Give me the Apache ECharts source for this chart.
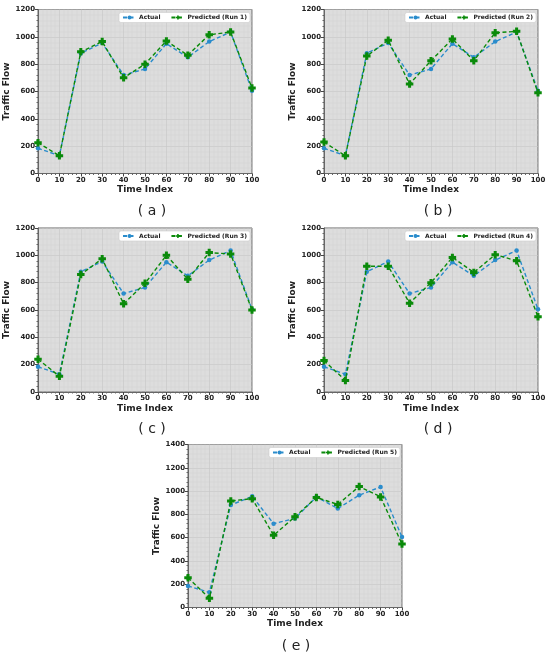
<!DOCTYPE html>
<html>
<head>
<meta charset="utf-8">
<script src="https://cdn.jsdelivr.net/npm/echarts@6/dist/echarts.min.js"></script>
<style>
html,body{margin:0;padding:0;background:#fff;}
#chart{width:550px;height:656px;}
</style>
</head>
<body>
<div id="chart"></div>
<script>
var timeIndex = [0, 10, 20, 30, 40, 50, 60, 70, 80, 90, 100];
var actual = [185, 130, 880, 955, 720, 765, 950, 850, 965, 1035, 605];
var predRun1 = [225, 130, 890, 965, 700, 800, 970, 865, 1015, 1035, 625];
var predRun2 = [230, 130, 860, 975, 655, 825, 985, 825, 1030, 1040, 590];
var predRun3 = [240, 115, 860, 975, 645, 795, 1000, 825, 1020, 1010, 600];
var predRun4 = [230, 85, 920, 920, 650, 800, 985, 875, 1005, 960, 550];
var predRun5 = [255, 80, 915, 935, 620, 780, 945, 885, 1040, 950, 545];
var runNames = ['Predicted (Run 1)', 'Predicted (Run 2)', 'Predicted (Run 3)', 'Predicted (Run 4)', 'Predicted (Run 5)'];
var runData = [predRun1, predRun2, predRun3, predRun4, predRun5];
var yMaxes = [1200, 1200, 1200, 1200, 1400];
var captions = ['( a )', '( b )', '( c )', '( d )', '( e )'];

var panels = [
  {left: 38, top: 9.5, width: 214, height: 164, cx: 152, cy: 211},
  {left: 324, top: 9.5, width: 214, height: 164, cx: 438, cy: 211},
  {left: 38, top: 228, width: 214, height: 164, cx: 152, cy: 429},
  {left: 324, top: 228, width: 214, height: 164, cx: 438, cy: 429},
  {left: 188, top: 444.5, width: 214, height: 163, cx: 296, cy: 646}
];

var FONT = 'DejaVu Sans';
var blue = '#2a8ccc';
var green = '#0a8a0a';
var plusPath = 'path://M3,0H7V3H10V7H7V10H3V7H0V3H3Z';

var grids = [], xAxes = [], yAxes = [], series = [], legends = [], graphics = [];

function pairs(ys) {
  return timeIndex.map(function (t, i) { return [t, ys[i]]; });
}
function plain(v) { return String(v); }

panels.forEach(function (p, k) {
  grids.push({
    left: p.left, top: p.top, width: p.width, height: p.height,
    show: true, backgroundColor: '#dddddd', borderColor: '#666', borderWidth: 1
  });
  xAxes.push({
    type: 'value', gridIndex: k, min: 0, max: 100, interval: 10,
    name: 'Time Index', nameLocation: 'middle', nameGap: 12,
    nameTextStyle: {fontFamily: FONT, fontWeight: 'bold', fontSize: 9, color: '#222'},
    axisLine: {show: true, onZero: false, lineStyle: {color: '#666', width: 1}},
    axisTick: {show: true, length: 3, lineStyle: {color: '#444'}},
    minorTick: {show: true, splitNumber: 5, length: 1.5, lineStyle: {color: '#666'}},
    axisLabel: {fontFamily: FONT, fontWeight: 'bold', fontSize: 7, color: '#222', margin: 3, formatter: plain},
    splitLine: {show: true, lineStyle: {color: '#c6c6c6', width: 0.6}},
    minorSplitLine: {show: true, lineStyle: {color: '#cfcfcf', width: 0.4}}
  });
  yAxes.push({
    type: 'value', gridIndex: k, min: 0, max: yMaxes[k], interval: 200,
    name: 'Traffic Flow', nameLocation: 'middle', nameGap: 20, nameRotate: 90,
    nameTextStyle: {fontFamily: FONT, fontWeight: 'bold', fontSize: 9, color: '#222'},
    axisLine: {show: true, lineStyle: {color: '#666', width: 1}},
    axisTick: {show: true, length: 3, lineStyle: {color: '#444'}},
    minorTick: {show: true, splitNumber: 5, length: 1.5, lineStyle: {color: '#666'}},
    axisLabel: {fontFamily: FONT, fontWeight: 'bold', fontSize: 7, color: '#222', margin: 3, formatter: plain},
    splitLine: {show: true, lineStyle: {color: '#c6c6c6', width: 0.6}},
    minorSplitLine: {show: true, lineStyle: {color: '#cfcfcf', width: 0.4}}
  });
  series.push({
    name: 'Actual', type: 'line', xAxisIndex: k, yAxisIndex: k,
    data: pairs(actual), symbol: 'circle', symbolSize: 4.5,
    itemStyle: {color: blue}, lineStyle: {color: blue, width: 1.4, type: [4, 2.5]},
    z: 3, animation: false
  });
  series.push({
    name: runNames[k], type: 'line', xAxisIndex: k, yAxisIndex: k,
    data: pairs(runData[k]), symbol: plusPath, symbolSize: 7.5,
    itemStyle: {color: green}, lineStyle: {color: green, width: 1.4, type: [4, 2.5]},
    z: 4, animation: false
  });
  legends.push({
    data: ['Actual', runNames[k]],
    right: 550 - (p.left + p.width) + 2, top: p.top + 3,
    orient: 'horizontal', itemWidth: 13, itemHeight: 5, itemGap: 10,
    backgroundColor: '#ffffff', borderColor: '#cccccc', borderWidth: 0.6, borderRadius: 2,
    padding: [2, 3],
    textStyle: {fontFamily: FONT, fontWeight: 'bold', fontSize: 6, color: '#222', padding: [0, 0, 0, -2]},
    selectedMode: false
  });
  graphics.push({
    type: 'text', x: p.cx, y: p.cy,
    style: {text: captions[k], textAlign: 'center', textVerticalAlign: 'middle',
      font: '14px "DejaVu Sans"', fill: '#222'}
  });
});

var chart = echarts.init(document.getElementById('chart'), null, {renderer: 'canvas'});
chart.setOption({
  backgroundColor: '#ffffff',
  animation: false,
  grid: grids,
  xAxis: xAxes,
  yAxis: yAxes,
  legend: legends,
  series: series,
  graphic: graphics
});
</script>
</body>
</html>
